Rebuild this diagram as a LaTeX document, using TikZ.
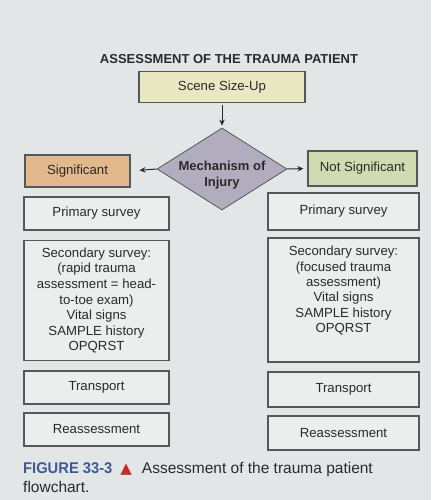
\documentclass[tikz,border=0pt]{standalone}
\usepackage{fontspec}
\setmainfont{Liberation Sans}
\newfontfamily\symfont{DejaVu Sans}
\usetikzlibrary{shapes.geometric,arrows.meta}
\definecolor{bgc}{HTML}{E2E6E7}
\definecolor{boxfill}{HTML}{ECEDED}
\definecolor{boxline}{HTML}{55585B}
\definecolor{scenefill}{HTML}{E9E8C2}
\definecolor{sigfill}{HTML}{E2B98C}
\definecolor{nsfill}{HTML}{D1DBB1}
\definecolor{mechfill}{HTML}{B2ACBF}
\definecolor{capblue}{HTML}{3D5B93}
\definecolor{capred}{HTML}{C62A2C}
\definecolor{txt}{HTML}{2A2A2A}
\tikzset{
  box/.style={draw=boxline, line width=1.1pt, fill=boxfill, rectangle, inner sep=2pt,
    align=center, font=\fontsize{13.2}{15.6}\selectfont, text=txt},
  conn/.style={draw=txt, line width=1pt, -{Stealth[length=6pt,width=5.5pt]}},
  plain/.style={inner sep=0pt, text=txt}
}
\begin{document}
\begin{tikzpicture}[x=1pt,y=-1pt]
\fill[bgc] (0,0) rectangle (431,500);
\useasboundingbox (0,0) rectangle (431,500);
\node[plain, font=\bfseries\fontsize{13}{15}\selectfont] (title) at (229,59) {ASSESSMENT OF THE TRAUMA PATIENT};
\node[box, fill=scenefill, minimum width=166pt, minimum height=31pt] (scene) at (222,87) {Scene Size-Up};
\node[draw=boxline, line width=0.8pt, fill=mechfill, diamond, aspect=1.59, inner sep=0pt,
  minimum width=130pt, minimum height=82pt] (mech) at (222,169) {};
\node[plain, align=center, font=\bfseries\fontsize{13}{15.5}\selectfont] (mechtext) at (222,175) {Mechanism of\\Injury};
\node[box, fill=sigfill, minimum width=105pt, minimum height=32pt] (sig) at (77.5,171) {Significant};
\node[box, fill=nsfill, minimum width=109pt, minimum height=35pt] (ns) at (362.5,168.5) {Not Significant};
% left column
\node[box, minimum width=145pt, minimum height=33pt] (primL) at (96.5,213.5) {Primary survey};
\node[box, minimum width=145pt, minimum height=120pt] (secL) at (96.5,300.5) {Secondary survey:\\(rapid trauma\\assessment = head-\\to-toe exam)\\Vital signs\\SAMPLE history\\OPQRST};
\node[box, minimum width=145pt, minimum height=33pt] (transL) at (96.5,387.5) {Transport};
\node[box, minimum width=145pt, minimum height=33pt] (reasL) at (96.5,429.5) {Reassessment};
% right column
\node[box, minimum width=151pt, minimum height=37pt] (primR) at (343.5,211.5) {Primary survey};
\node[box, minimum width=151pt, minimum height=124pt] (secR) at (343.5,300) {};
\node[plain, anchor=north, align=center, font=\fontsize{13.2}{15.4}\selectfont] (secRtext) at (343.5,246) {Secondary survey:\\(focused trauma\\assessment)\\Vital signs\\SAMPLE history\\OPQRST};
\node[box, minimum width=151pt, minimum height=35pt] (transR) at (343.5,389.5) {Transport};
\node[box, minimum width=151pt, minimum height=34pt] (reasR) at (343.5,433) {Reassessment};
% connectors
\draw[conn, shorten >=2pt, shorten <=1.5pt] (scene.south) -- (mech.north);
\draw[conn, shorten >=9pt] (mech.west) -- (sig.east);
\draw[conn, shorten >=4pt] (mech.east) -- (ns.west);
% caption
\node[plain, anchor=base west, font=\fontsize{15.5}{18}\selectfont, align=left] (cap) at (23,473)
  {\textcolor{capblue}{\bfseries\scalebox{0.95}[1]{FIGURE 33-3}}\hspace{8pt}\textcolor{capred}{\symfont\fontsize{15}{16}\selectfont ▲}\hspace{10pt}Assessment of the trauma patient};
\node[plain, anchor=base west, font=\fontsize{15.5}{18}\selectfont] (cap2) at (23,492) {flowchart.};
\end{tikzpicture}
\end{document}
